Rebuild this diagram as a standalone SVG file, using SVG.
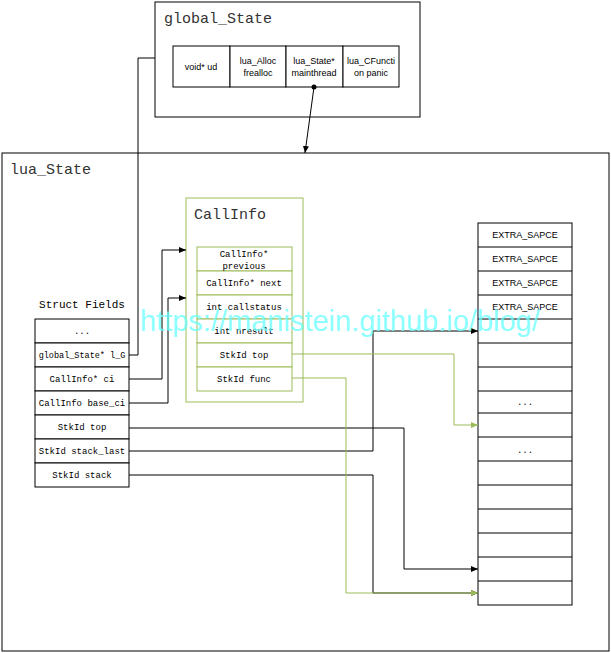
<svg xmlns="http://www.w3.org/2000/svg" width="611" height="653" viewBox="0 0 611 653">
<style>
.b{fill:#fff;stroke:#000;stroke-width:1}
.g{fill:#fff;stroke:#9bbb59;stroke-width:1}
.t{font-family:"Liberation Mono",monospace;font-size:9px;text-anchor:middle;fill:#000}
.s{font-family:"Liberation Sans",sans-serif;font-size:9px;text-anchor:middle;fill:#000}
.h{font-family:"Liberation Mono",monospace;font-size:15px;fill:#333}
.k{fill:none;stroke:#000;stroke-width:1}
.kg{fill:none;stroke:#9bbb59;stroke-width:1}
</style>
<defs>
<marker id="a" markerWidth="8" markerHeight="8" refX="7" refY="4" orient="auto" markerUnits="userSpaceOnUse"><path d="M0,1 L7,4 L0,7z" fill="#000"/></marker>
<marker id="ag" markerWidth="8" markerHeight="8" refX="7" refY="4" orient="auto" markerUnits="userSpaceOnUse"><path d="M0,1 L7,4 L0,7z" fill="#9bbb59"/></marker>
</defs>
<rect width="611" height="653" fill="#fff"/>
<g id="lua_State"><rect class="b" x="2" y="153" width="607" height="498"/><text class="h" x="10" y="174">lua_State</text></g>
<g id="global_State"><rect class="b" x="155" y="2" width="265" height="115"/><text class="h" x="164" y="23">global_State</text>
<rect class="b" x="173" y="46" width="57" height="41"/><rect class="b" x="230" y="46" width="56" height="41"/><rect class="b" x="286" y="46" width="57" height="41"/><rect class="b" x="343" y="46" width="56" height="41"/>
<text class="s" x="201" y="70">void* ud</text>
<text class="s" x="258" y="64">lua_Alloc</text><text class="s" x="258" y="76">frealloc</text>
<text class="s" x="314" y="64">lua_State*</text><text class="s" x="314" y="76">mainthread</text>
<text class="s" x="371" y="64">lua_CFuncti</text><text class="s" x="371" y="76">on panic</text></g>
<g id="CallInfo"><rect class="g" x="186" y="198" width="117" height="204"/><text class="h" x="194" y="219">CallInfo</text>
<rect class="g" x="197" y="247" width="95" height="24"/><rect class="g" x="197" y="271" width="95" height="24"/><rect class="g" x="197" y="295" width="95" height="24"/><rect class="g" x="197" y="319" width="95" height="24"/><rect class="g" x="197" y="343" width="95" height="24"/><rect class="g" x="197" y="367" width="95" height="24"/>
<text class="t" x="244" y="257">CallInfo*</text><text class="t" x="244" y="269">previous</text>
<text class="t" x="244" y="286">CallInfo* next</text>
<text class="t" x="244" y="310" fill="#888">int callstatus</text>
<text class="t" x="244" y="334" fill="#888">int nresult</text>
<text class="t" x="244" y="358">StkId top</text>
<text class="t" x="244" y="382">StkId func</text></g>
<g id="StructFields"><text class="t" x="82" y="308" style="font-size:11px">Struct Fields</text>
<rect class="b" x="35" y="319" width="94" height="24"/><rect class="b" x="35" y="343" width="94" height="24"/><rect class="b" x="35" y="367" width="94" height="24"/><rect class="b" x="35" y="391" width="94" height="24"/><rect class="b" x="35" y="415" width="94" height="24"/><rect class="b" x="35" y="439" width="94" height="24"/><rect class="b" x="35" y="463" width="94" height="24"/>
<text class="t" x="82" y="334">...</text>
<text class="t" x="82" y="358" style="font-size:8.5px">global_State* l_G</text>
<text class="t" x="82" y="382">CallInfo* ci</text>
<text class="t" x="82" y="406">CallInfo base_ci</text>
<text class="t" x="82" y="430">StkId top</text>
<text class="t" x="82" y="454">StkId stack_last</text>
<text class="t" x="82" y="478">StkId stack</text></g>
<g id="Stack">
<rect class="b" x="478" y="223" width="94" height="382"/>
<path class="k" d="M478,247H572M478,271H572M478,295H572M478,319H572M478,343H572M478,367H572M478,391H572M478,413H572M478,437H572M478,461H572M478,485H572M478,509H572M478,533H572M478,557H572M478,581H572"/>
<text class="s" x="525" y="238">EXTRA_SAPCE</text><text class="s" x="525" y="262">EXTRA_SAPCE</text><text class="s" x="525" y="286">EXTRA_SAPCE</text><text class="s" x="525" y="310" fill="#555">EXTRA_SAPCE</text>
<text class="t" x="525" y="405">...</text><text class="t" x="525" y="453">...</text></g>
<g id="connectors">
<path class="k" d="M129,355H138V58H155"/>
<circle cx="314" cy="87" r="2.5" fill="#000"/>
<path class="k" d="M314,87L305,153" marker-end="url(#a)"/>
<path class="k" d="M129,379H162V250H186" marker-end="url(#a)"/>
<path class="k" d="M129,403H168V298H186" stroke="#555" marker-end="url(#a)"/>
<path class="k" d="M129,451H373V331H478" stroke="#444" marker-end="url(#a)"/>
<path class="k" d="M129,428H404V569H478" marker-end="url(#a)"/>
<path class="k" d="M129,475H373V593H478" marker-end="url(#a)"/>
<path class="kg" d="M292,354H454V425H478" marker-end="url(#ag)"/>
<path class="kg" d="M292,378H346V593H478" marker-end="url(#ag)"/>
</g>
<text x="140" y="331" font-family="Liberation Sans,sans-serif" font-size="29" fill="#66ffff" fill-opacity="0.75">https://manistein.github.io/blog/</text>
</svg>
